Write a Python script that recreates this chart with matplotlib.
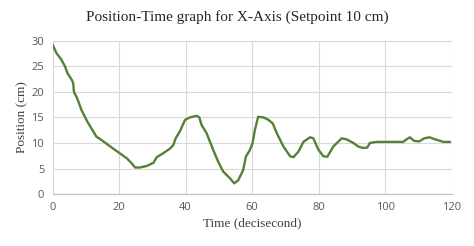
import numpy as np
import matplotlib.pyplot as plt

# Position readings taken off the reference curve
time_ds = [0, 1.2, 2.5, 3.7, 4.5, 5.7, 6.2, 6.4, 7.4, 8.7, 10.4, 13.2, 14.2, 18.2,
           22.3, 23.8, 24.8, 26.3, 28.3, 30.3, 31.3, 33.3, 35.3, 36.3, 37.0, 38.3,
           39.8, 41.3, 43.3, 44.1, 44.8, 46.3, 48.3, 49.8, 51.3, 53.3, 54.6, 55.8,
           57.3, 58.1, 59.3, 60.1, 60.8, 61.8, 63.4, 64.9, 66.2, 67.4, 69.4, 71.4,
           72.4, 73.9, 75.4, 77.4, 78.4, 79.9, 81.4, 82.6, 84.4, 86.9, 88.4, 90.4,
           91.9, 93.4, 94.6, 95.4, 97.4, 101.4, 105.4, 106.4, 107.4, 108.7, 110.3,
           111.7, 113.3, 115.0, 117.5, 119.5]
position_cm = [29.2, 27.5, 26.4, 25.0, 23.6, 22.4, 21.7, 20.0, 18.7, 16.4, 14.2, 11.2,
               10.8, 8.9, 7.0, 6.0, 5.2, 5.2, 5.5, 6.1, 7.2, 8.0, 8.9, 9.6, 10.9, 12.3,
               14.5, 15.0, 15.3, 15.0, 13.5, 11.9, 8.6, 6.3, 4.4, 3.1, 2.1, 2.7,
               4.7, 7.3, 8.6, 9.9, 12.5, 15.1, 15.0, 14.5, 13.8, 11.9, 9.3, 7.4,
               7.2, 8.3, 10.2, 11.1, 10.9, 8.7, 7.4, 7.3, 9.3, 10.9, 10.7, 10.0,
               9.3, 9.0, 9.1, 10.0, 10.2, 10.2, 10.2, 10.7, 11.1, 10.4, 10.3,
               10.9, 11.1, 10.7, 10.2, 10.2]

x_ticks = [0, 20, 40, 60, 80, 100, 120]
y_ticks = [0, 5, 10, 15, 20, 25, 30]

fig = plt.figure(figsize=(4.74, 2.46), dpi=100)
ax = fig.add_axes([0.111, 0.211, 0.842, 0.624])

ax.plot(time_ds, position_cm, color='#538135', linewidth=1.7,
        solid_joinstyle='round', solid_capstyle='round')

ax.set_xlim(0, 120)
ax.set_ylim(0, 30)
ax.set_xticks(x_ticks)
ax.set_yticks(y_ticks)
ax.grid(True, color='#d9d9d9', linewidth=0.8)
ax.set_axisbelow(True)
for side in ['top', 'right', 'left']:
    ax.spines[side].set_visible(False)
ax.spines['bottom'].set_color('#bfbfbf')
ax.tick_params(length=0, labelsize=8, labelcolor='#595959', pad=6)
for lbl in ax.get_xticklabels() + ax.get_yticklabels():
    lbl.set_family('Open Sans')

serif = 'Liberation Serif'
# title is centred on the whole figure, not the plot area
fig.suptitle('Position-Time graph for X-Axis (Setpoint 10 cm)', family=serif,
             fontsize=11, color='#262626', x=0.5, y=0.93, va='center')
ax.set_xlabel('Time (decisecond)', family=serif, fontsize=9.5, color='#404040', labelpad=3)
ax.set_ylabel('Position (cm)', family=serif, fontsize=9.5, color='#404040', labelpad=2)

fig.savefig('out.png', dpi=100)
